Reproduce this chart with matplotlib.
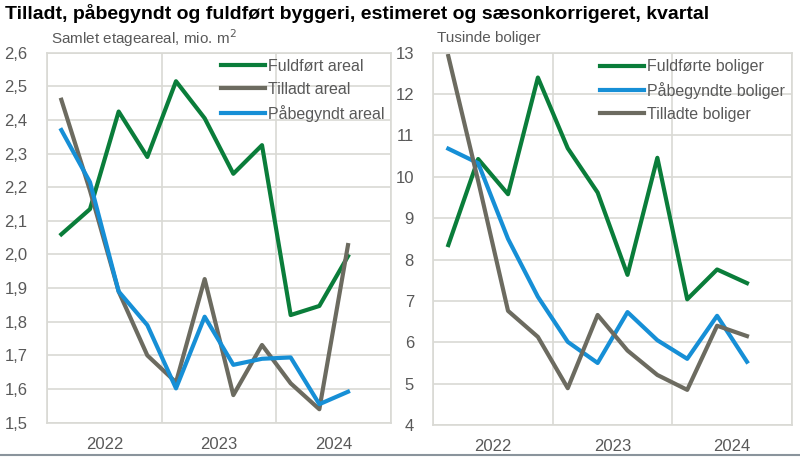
import matplotlib.pyplot as plt
import numpy as np

# quarters 2022K1 - 2024K3 (11 points, 12 slots on the axis)
years = ['2022', '2023', '2024']

# Samlet etageareal, mio. m2
fuldfoert_areal = [2.06, 2.135, 2.425, 2.29, 2.515, 2.405, 2.24, 2.325, 1.82, 1.847, 1.995]
tilladt_areal = [2.46, 2.19, 1.89, 1.70, 1.62, 1.927, 1.582, 1.731, 1.617, 1.54, 2.028]
paabegyndt_areal = [2.37, 2.215, 1.89, 1.79, 1.602, 1.815, 1.672, 1.69, 1.694, 1.555, 1.592]

# Tusinde boliger
fuldfoerte_boliger = [8.35, 10.43, 9.58, 12.4, 10.69, 9.62, 7.63, 10.46, 7.04, 7.76, 7.43]
paabegyndte_boliger = [10.68, 10.33, 8.5, 7.1, 6.01, 5.5, 6.73, 6.05, 5.6, 6.64, 5.53]
tilladte_boliger = [12.92, 9.9, 6.76, 6.13, 4.89, 6.66, 5.8, 5.21, 4.85, 6.4, 6.15]

GREEN = '#0a7d3a'
GRAY = '#6c6b60'
BLUE = '#168fd6'
TXT = '#595959'
GRID = '#d9d9d4'

plt.rcParams['font.family'] = ['Liberation Sans', 'DejaVu Sans']

fig = plt.figure(figsize=(8, 4.58), dpi=100)
ax1 = fig.add_axes([0.05875, 0.0771, 0.43, 0.8079])
ax2 = fig.add_axes([0.5417, 0.072, 0.448, 0.8129])

x = np.arange(len(fuldfoert_areal)) + 0.5


def style_axis(ax, ymin, ymax, step, fmt):
    ax.set_xlim(0, 12)
    ax.set_ylim(ymin, ymax)
    ax.set_xticks([0, 4, 8, 12])
    ax.set_xticklabels([])
    ax.set_xticks([2, 6, 10], minor=True)
    ax.set_xticklabels(years, minor=True)
    ticks = np.arange(ymin, ymax + step / 2, step)
    ax.set_yticks(ticks)
    ax.set_yticklabels([fmt(t) for t in ticks])
    ax.grid(True, color=GRID, linewidth=1.2)
    ax.set_axisbelow(True)
    for s in ax.spines.values():
        s.set_color(GRID)
        s.set_linewidth(1.2)
    ax.tick_params(which='both', length=0, colors=TXT, labelsize=12)
    ax.tick_params(axis='x', which='minor', pad=10)
    ax.tick_params(axis='y', pad=14)


lw = 3.0
ax1.plot(x, fuldfoert_areal, color=GREEN, lw=lw, label='Fuldført areal')
ax1.plot(x, tilladt_areal, color=GRAY, lw=lw, label='Tilladt areal')
ax1.plot(x, paabegyndt_areal, color=BLUE, lw=lw, label='Påbegyndt areal')
style_axis(ax1, 1.5, 2.6, 0.1, lambda t: f'{t:.1f}'.replace('.', ','))

ax2.plot(x, fuldfoerte_boliger, color=GREEN, lw=lw, label='Fuldførte boliger')
ax2.plot(x, paabegyndte_boliger, color=BLUE, lw=lw, label='Påbegyndte boliger')
ax2.plot(x, tilladte_boliger, color=GRAY, lw=lw, label='Tilladte boliger')
style_axis(ax2, 4, 13, 1, lambda t: f'{t:.0f}')

for ax in (ax1, ax2):
    leg = ax.legend(loc='upper right', frameon=False, fontsize=11.5, handlelength=2.75,
                    handletextpad=0.2, labelspacing=0.5, borderaxespad=0.0)
    for t in leg.get_texts():
        t.set_color(TXT)

fig.text(0.006, 0.97, 'Tilladt, påbegyndt og fuldført byggeri, estimeret og sæsonkorrigeret, kvartal',
         fontsize=14, fontweight='bold', ha='left', va='center', color='black')
fig.text(0.064, 0.917, 'Samlet etageareal, mio. m$^2$', fontsize=11, color=TXT, ha='left', va='center')
fig.text(0.546, 0.917, 'Tusinde boliger', fontsize=11, color=TXT, ha='left', va='center')

# thin band at the bottom of the frame
fig.add_artist(plt.Line2D([0, 1], [0.007, 0.007], color='#8a949c', lw=1.5, transform=fig.transFigure))

plt.savefig('out.png', dpi=100)
